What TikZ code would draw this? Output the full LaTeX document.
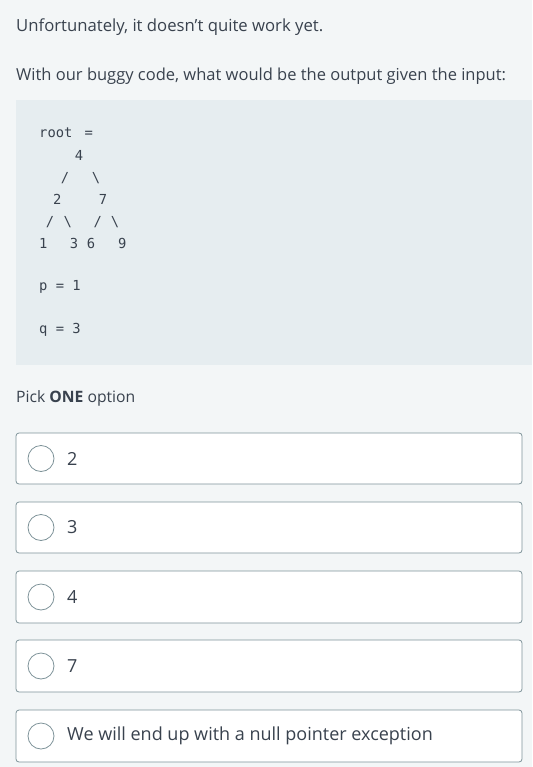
\documentclass[tikz,border=0pt]{standalone}
\usepackage{fontspec}
\setmainfont{Open Sans}
\setmonofont{DejaVu Sans Mono}
\definecolor{pagebg}{HTML}{F3F6F7}
\definecolor{codebg}{HTML}{E6EDF0}
\definecolor{txt}{HTML}{39424E}
\definecolor{boxline}{HTML}{7E9399}
\begin{document}
\begin{tikzpicture}[x=1pt,y=-1pt,
  para/.style={anchor=west,inner sep=0pt,text=txt,font=\fontsize{16.7}{19}\selectfont},
  code/.style={inner sep=0pt,text=txt,font=\ttfamily\fontsize{13.8}{15}\selectfont},
  codel/.style={code,anchor=west},
  optbox/.style={draw=boxline,fill=white,rounded corners=3pt,line width=0.8pt},
  radio/.style={circle,draw=boxline,line width=0.8pt,minimum size=26pt,inner sep=0pt},
  opttext/.style={anchor=west,inner sep=0pt,text=txt,font=\fontsize{18}{21}\selectfont}]
\useasboundingbox (0,0) rectangle (532,767);
\fill[pagebg] (0,0) rectangle (532,767);
\node[para] (l1) at (16,27) {Unfortunately, it doesn’t quite work yet.};
\node[para,font=\fontsize{16.5}{19}\selectfont] (l2) at (16,76) {With our buggy code, what would be the output given the input:};
\fill[codebg] (16,100) rectangle (532,365);
\node[codel] (c1) at (39,133) {root\hspace{4pt} =};
\node[code] (n4) at (79,155) {4};
\node[code] (s1) at (65,178) {/};
\node[code] (b1) at (96,178) {\textbackslash};
\node[code] (n2) at (57.3,199) {2};
\node[code] (n7) at (103,199) {7};
\node[code] (s2) at (50,222) {/};
\node[code] (b2) at (67.7,222) {\textbackslash};
\node[code] (s3) at (97.7,222) {/};
\node[code] (b3) at (115,222) {\textbackslash};
\node[code] (n1) at (43.3,243) {1};
\node[code] (n3) at (74,243) {3};
\node[code] (n6) at (91,243) {6};
\node[code] (n9) at (122.3,243) {9};
\node[codel] (cp) at (39,287) {p = 1};
\node[codel] (cq) at (39,330) {q = 3};
\node[para,font=\fontsize{15.7}{19}\selectfont] (pick) at (16,398) {Pick \textbf{ONE} option};
\foreach \i/\t/\b/\lab in {1/433/484/2, 2/502/553/3, 3/571/623/4, 4/640/692/7, 5/710/762/{We will end up with a null pointer exception}}{
  \draw[optbox] (16,\t) rectangle (522,\b);
  \node[radio] (r\i) at (41,{(\t+\b)/2}) {};
  \node[opttext] (o\i) at (67,{(\t+\b)/2}) {\lab};
}
\end{tikzpicture}
\end{document}
